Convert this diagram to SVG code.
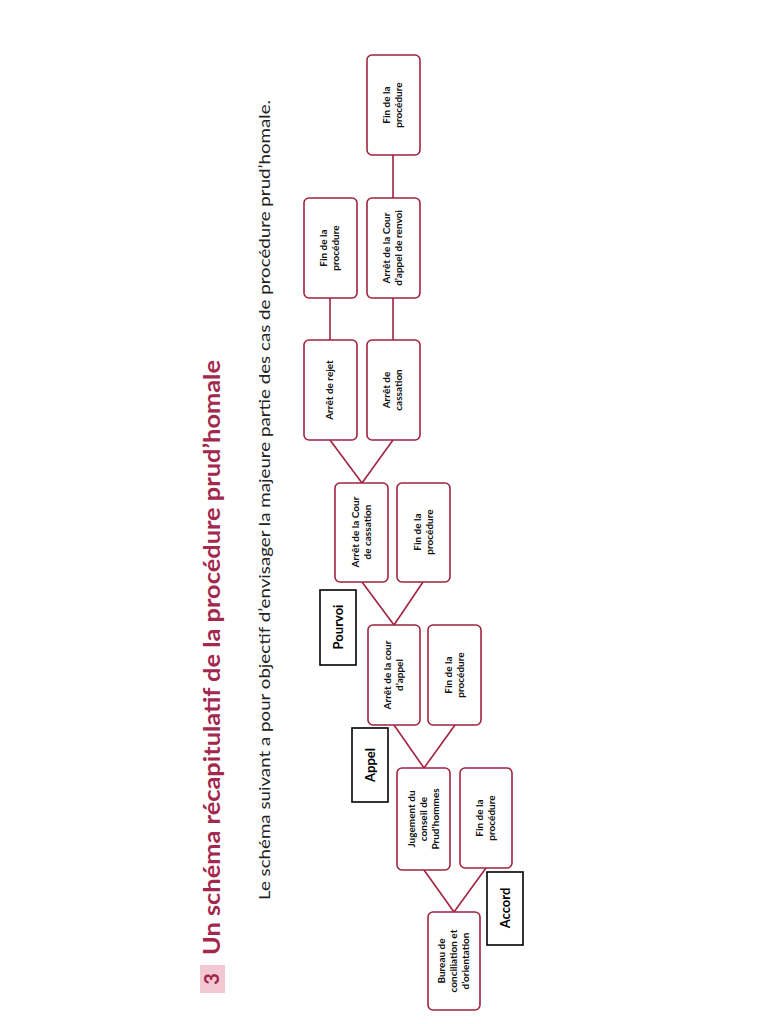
<svg xmlns="http://www.w3.org/2000/svg" width="768" height="1024" viewBox="0 0 768 1024">
<style>
.b{fill:#fff;stroke:#a0223f;stroke-width:1.6}
.l{fill:#fff;stroke:#000;stroke-width:1.6}
.t{font-family:Lato,"Open Sans",sans-serif;font-size:10px;font-weight:bold;fill:#111;text-anchor:middle}
.lt{font-family:Lato,"Open Sans",sans-serif;font-size:13px;font-weight:bold;fill:#000;text-anchor:middle}
#connectors line{stroke:#a0223f;stroke-width:1.6}
</style>
<rect width="768" height="1024" fill="#fff"/>
<g id="title">
<rect x="200" y="965" width="25" height="28" fill="#f2c9d2"/>
<text transform="translate(219,979) rotate(-90)" text-anchor="middle" font-family="Lato,sans-serif" font-size="20" font-weight="bold" fill="#a3284e">3</text>
<text transform="translate(220,955) rotate(-90)" font-family="Lato,sans-serif" font-size="22" font-weight="bold" fill="#a3284e" textLength="595" lengthAdjust="spacingAndGlyphs">Un schéma récapitulatif de la procédure prud’homale</text>
<text transform="translate(270,900) rotate(-90)" font-family="Lato,sans-serif" font-size="16" fill="#222" textLength="800" lengthAdjust="spacingAndGlyphs">Le schéma suivant a pour objectif d’envisager la majeure partie des cas de procédure prud’homale.</text>
</g>
<g id="connectors">
<line x1="454" y1="912" x2="424" y2="870"/><line x1="454" y1="912" x2="486" y2="868"/>
<line x1="424" y1="768" x2="394" y2="725"/><line x1="424" y1="768" x2="455" y2="725"/>
<line x1="394" y1="625" x2="362" y2="582"/><line x1="394" y1="625" x2="423" y2="582"/>
<line x1="362" y1="483" x2="330" y2="440"/><line x1="362" y1="483" x2="393" y2="440"/>
<line x1="330" y1="340" x2="330" y2="298"/>
<line x1="393" y1="340" x2="393" y2="298"/>
<line x1="393" y1="198" x2="393" y2="155"/>
</g>
<g id="n1"><rect class="b" x="428" y="912" width="52" height="98" rx="5"/><text class="t" transform="translate(454,961) rotate(-90)"><tspan x="0" y="-9">Bureau de</tspan><tspan x="0" y="3">conciliation et</tspan><tspan x="0" y="15">d’orientation</tspan></text></g>
<g id="n2"><rect class="b" x="397" y="768" width="53" height="102" rx="5"/><text class="t" transform="translate(424,819) rotate(-90)"><tspan x="0" y="-9">Jugement du</tspan><tspan x="0" y="3">conseil de</tspan><tspan x="0" y="15">Prud’hommes</tspan></text></g>
<g id="n3"><rect class="b" x="460" y="768" width="52" height="100" rx="5"/><text class="t" transform="translate(486,818) rotate(-90)"><tspan x="0" y="-3">Fin de la</tspan><tspan x="0" y="9">procédure</tspan></text></g>
<g id="n4"><rect class="l" x="487" y="872" width="36" height="73"/><text class="lt" transform="translate(510,908) rotate(-90)">Accord</text></g>
<g id="n5"><rect class="b" x="368" y="625" width="52" height="100" rx="5"/><text class="t" transform="translate(394,675) rotate(-90)"><tspan x="0" y="-3">Arrêt de la cour</tspan><tspan x="0" y="9">d’appel</tspan></text></g>
<g id="n6"><rect class="b" x="428" y="625" width="53" height="100" rx="5"/><text class="t" transform="translate(455,675) rotate(-90)"><tspan x="0" y="-3">Fin de la</tspan><tspan x="0" y="9">procédure</tspan></text></g>
<g id="n7"><rect class="l" x="352" y="728" width="36" height="74"/><text class="lt" transform="translate(375,765) rotate(-90)">Appel</text></g>
<g id="n8"><rect class="b" x="335" y="483" width="53" height="99" rx="5"/><text class="t" transform="translate(362,532) rotate(-90)"><tspan x="0" y="-3">Arrêt de la Cour</tspan><tspan x="0" y="9">de cassation</tspan></text></g>
<g id="n9"><rect class="b" x="397" y="483" width="53" height="99" rx="5"/><text class="t" transform="translate(424,532) rotate(-90)"><tspan x="0" y="-3">Fin de la</tspan><tspan x="0" y="9">procédure</tspan></text></g>
<g id="n10"><rect class="l" x="320" y="590" width="36" height="75"/><text class="lt" transform="translate(343,627) rotate(-90)">Pourvoi</text></g>
<g id="n11"><rect class="b" x="304" y="340" width="53" height="100" rx="5"/><text class="t" transform="translate(330,390) rotate(-90)"><tspan x="0" y="3">Arrêt de rejet</tspan></text></g>
<g id="n12"><rect class="b" x="367" y="340" width="53" height="100" rx="5"/><text class="t" transform="translate(393,390) rotate(-90)"><tspan x="0" y="-3">Arrêt de</tspan><tspan x="0" y="9">cassation</tspan></text></g>
<g id="n13"><rect class="b" x="304" y="198" width="53" height="100" rx="5"/><text class="t" transform="translate(330,248) rotate(-90)"><tspan x="0" y="-3">Fin de la</tspan><tspan x="0" y="9">procédure</tspan></text></g>
<g id="n14"><rect class="b" x="367" y="198" width="53" height="100" rx="5"/><text class="t" transform="translate(393,248) rotate(-90)"><tspan x="0" y="-3">Arrêt de la Cour</tspan><tspan x="0" y="9">d’appel de renvoi</tspan></text></g>
<g id="n15"><rect class="b" x="367" y="55" width="53" height="100" rx="5"/><text class="t" transform="translate(393,105) rotate(-90)"><tspan x="0" y="-3">Fin de la</tspan><tspan x="0" y="9">procédure</tspan></text></g>
</svg>
